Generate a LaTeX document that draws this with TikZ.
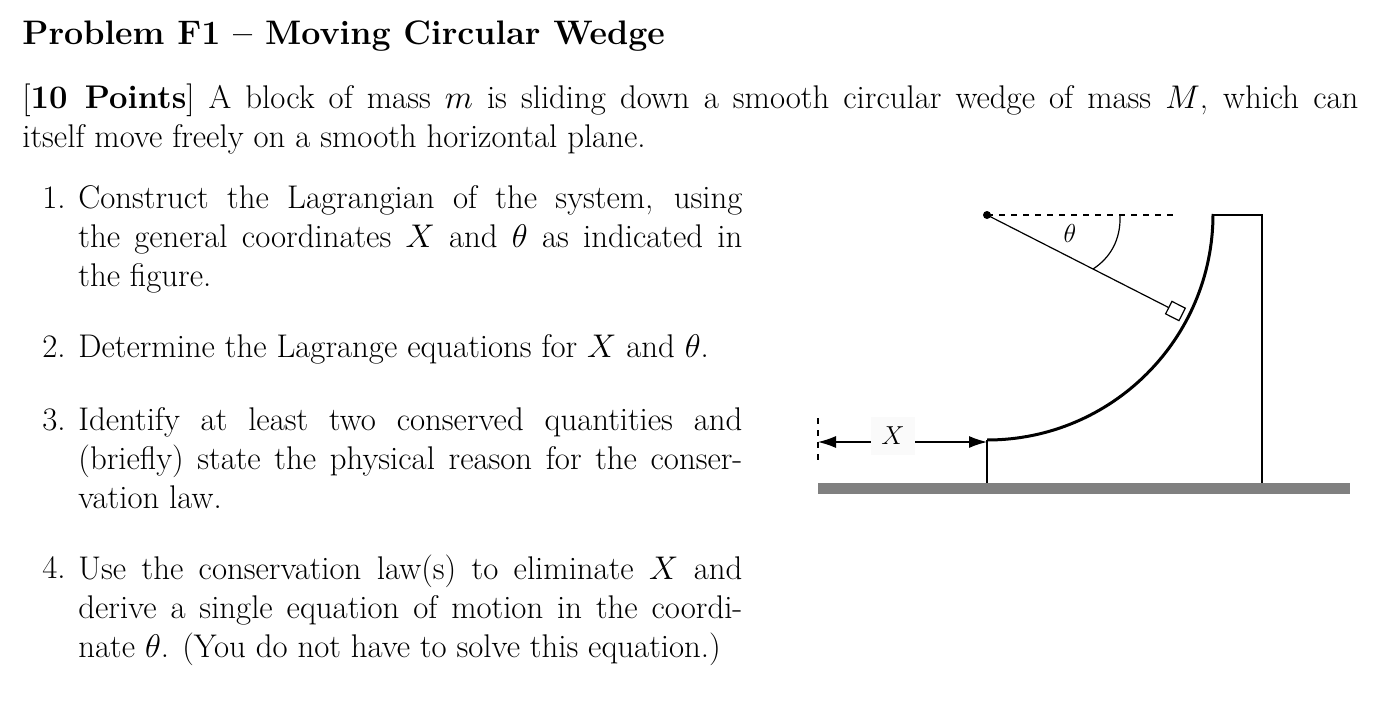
\RequirePackage{fix-cm}
\documentclass[tikz,border=0pt]{standalone}
\usetikzlibrary{calc,arrows.meta}
\begin{document}
\begin{tikzpicture}[x=0.5pt,y=-0.5pt,
  txt/.style={anchor=north west,inner sep=0pt,align=justify,font=\fontsize{16.4}{19.5}\selectfont},
  num/.style={anchor=base east,inner sep=0pt,font=\fontsize{16.4}{19.5}\selectfont},
  thin/.style={line width=0.6pt}]
\useasboundingbox (0,0) rectangle (1400,711);
\node[anchor=base west,inner sep=0pt,font=\fontsize{17}{20}\selectfont\bfseries] (title) at (22,45) {Problem F1 -- Moving Circular Wedge};
\node[txt,text width=668pt] (intro) at (22,84) {[\textbf{10 Points}] A block of mass $m$ is sliding down a smooth circular wedge of mass $M$, which can\linebreak itself move freely on a smooth horizontal plane.};
\node[num] (n1) at (66,208) {1.};
\node[txt,text width=332pt] (i1) at (78,185) {Construct the Lagrangian of the system, using\linebreak the general coordinates $X$ and $\theta$ as indicated in\linebreak the figure.};
\node[num] (n2) at (66,357) {2.};
\node[txt,text width=332pt] (i2) at (78,334) {Determine the Lagrange equations for $X$ and $\theta$.};
\node[num] (n3) at (66,430) {3.};
\node[txt,text width=332pt] (i3) at (78,407) {Identify at least two conserved quantities and\linebreak (briefly) state the physical reason for the conser-\linebreak vation law.};
\node[num] (n4) at (66,578) {4.};
\node[txt,text width=332pt] (i4) at (78,555) {Use the conservation law(s) to eliminate $X$ and\linebreak derive a single equation of motion in the coordi-\linebreak nate $\theta$. (You do not have to solve this equation.)};
% figure
\coordinate (C) at (987,215);
\fill[black!50] (818,483) rectangle (1350,494);
\draw[thin] (987,483) -- (987,440);
\draw[line width=1.5pt] (987,440) arc[start angle=90,end angle=0,radius=226];
\draw[thin] (1214,215) -- (1262,215) -- (1262,483);
\draw[thin,dashed] (C) -- (1175,215);
\fill (C) circle (4);
\draw[thin] (C) -- ($(C)+(27:204)$);
\draw[thin,fill=white] ($(C)+(27:204)+(117:7)$) -- ($(C)+(27:219)+(117:7)$) -- ($(C)+(27:219)+(-63:7)$) -- ($(C)+(27:204)+(-63:7)$) -- cycle;
\draw[thin] (1120,215) .. controls (1121,240) and (1110,258) .. (1093,269);
\node[inner sep=0pt,font=\fontsize{13}{15}\selectfont] (th) at (1070,233) {$\theta$};
\coordinate (L) at (818,442);
\coordinate (R) at (987,442);
\draw[thin,dashed] (818,418) -- (818,462);
\draw[thin,{Latex[length=9pt,width=6pt]}-{Latex[length=9pt,width=6pt]}] (L) -- (R);
\node[fill=gray!4,inner sep=5pt,font=\fontsize{13}{15}\selectfont] (x) at (893,436) {$X$};
\end{tikzpicture}
\end{document}
